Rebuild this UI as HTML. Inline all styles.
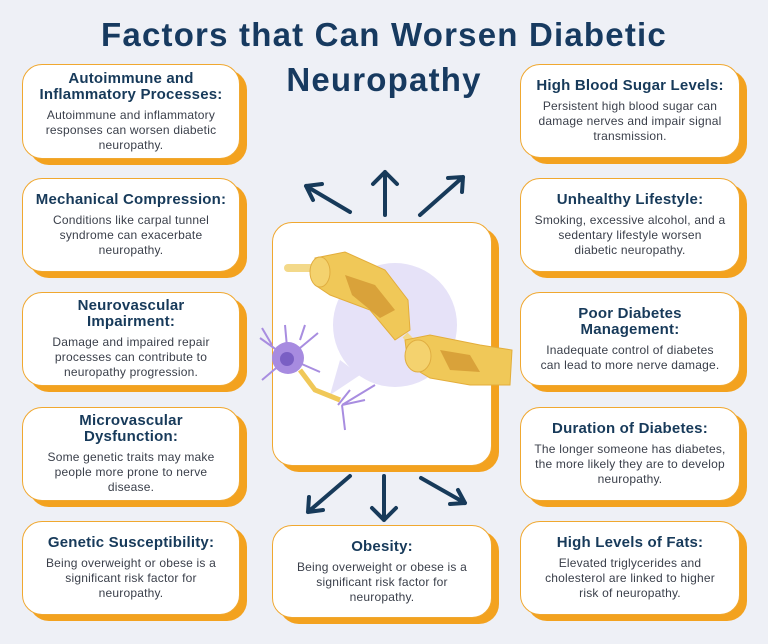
<!DOCTYPE html>
<html><head><meta charset="utf-8"><style>
body{margin:0;width:768px;height:644px;background:#eef0f6;font-family:"Liberation Sans",sans-serif;position:relative;overflow:hidden}
.t{position:absolute;left:0;width:768px;text-align:center;color:#173a60;font-weight:bold;font-size:33px;letter-spacing:1.2px}
.c{position:absolute;box-sizing:border-box;background:#fff;border:1.5px solid #f0a830;border-radius:20px;box-shadow:7px 6px 0 #f3a21f;text-align:center;display:flex;flex-direction:column;justify-content:center;padding:0 4px;white-space:nowrap}
.c h{display:block;color:#173a5a;font-weight:bold;font-size:15px;line-height:16px;margin-bottom:5px;letter-spacing:0.2px}
.c p{margin:0;color:#3a3f4a;font-size:12px;line-height:15px;letter-spacing:0.2px}
</style></head><body>
<div class="t" style="top:16px">Factors that Can Worsen Diabetic</div>
<div class="t" style="top:61px">Neuropathy</div>

<div class="c" style="left:22px;top:64px;width:218px;height:95px"><h>Autoimmune and<br>Inflammatory Processes:</h><p>Autoimmune and inflammatory<br>responses can worsen diabetic<br>neuropathy.</p></div>
<div class="c" style="left:22px;top:178px;width:218px;height:94px"><h>Mechanical Compression:</h><p>Conditions like carpal tunnel<br>syndrome can exacerbate<br>neuropathy.</p></div>
<div class="c" style="left:22px;top:292px;width:218px;height:94px"><h>Neurovascular<br>Impairment:</h><p>Damage and impaired repair<br>processes can contribute to<br>neuropathy progression.</p></div>
<div class="c" style="left:22px;top:407px;width:218px;height:94px"><h>Microvascular<br>Dysfunction:</h><p>Some genetic traits may make<br>people more prone to nerve<br>disease.</p></div>
<div class="c" style="left:22px;top:521px;width:218px;height:94px"><h>Genetic Susceptibility:</h><p>Being overweight or obese is a<br>significant risk factor for<br>neuropathy.</p></div>

<div class="c" style="left:520px;top:64px;width:220px;height:94px"><h>High Blood Sugar Levels:</h><p>Persistent high blood sugar can<br>damage nerves and impair signal<br>transmission.</p></div>
<div class="c" style="left:520px;top:178px;width:220px;height:94px"><h>Unhealthy Lifestyle:</h><p>Smoking, excessive alcohol, and a<br>sedentary lifestyle worsen<br>diabetic neuropathy.</p></div>
<div class="c" style="left:520px;top:292px;width:220px;height:94px"><h>Poor Diabetes<br>Management:</h><p>Inadequate control of diabetes<br>can lead to more nerve damage.</p></div>
<div class="c" style="left:520px;top:407px;width:220px;height:94px"><h>Duration of Diabetes:</h><p>The longer someone has diabetes,<br>the more likely they are to develop<br>neuropathy.</p></div>
<div class="c" style="left:520px;top:521px;width:220px;height:94px"><h>High Levels of Fats:</h><p>Elevated triglycerides and<br>cholesterol are linked to higher<br>risk of neuropathy.</p></div>

<div class="c" style="left:272px;top:525px;width:220px;height:93px"><h>Obesity:</h><p>Being overweight or obese is a<br>significant risk factor for<br>neuropathy.</p></div>

<div class="c" style="left:272px;top:222px;width:220px;height:244px"></div>

<svg style="position:absolute;left:0;top:0" width="768" height="644">
<g stroke="#173a5a" stroke-width="4" fill="none" stroke-linecap="round" stroke-linejoin="round">
<path d="M350 212 L306 186 M306 186 L322 184 M306 186 L313 200"/>
<path d="M385 215 L385 172 M373 184 L385 172 L397 184"/>
<path d="M420 215 L463 177 M448 178 L463 177 L462 192"/>
<path d="M350 476 L308 512 M309 497 L308 512 L323 510"/>
<path d="M384 476 L384 520 M372 508 L384 520 L396 508"/>
<path d="M421 478 L465 503 M450 504 L465 503 L458 490"/>
</g>
<circle cx="395" cy="325" r="62" fill="#e6e2f8"/>
<path d="M340 360 L330 395 L360 375 Z" fill="#e6e2f8"/>
<path d="M288 268 L318 268" stroke="#f3d98a" stroke-width="8" stroke-linecap="round"/>
<path d="M315 258 L345 252 L385 270 L408 300 L410 330 L395 340 L370 310 L330 295 L315 285 Z" fill="#f0c858" stroke="#e3ad3a"/>
<ellipse cx="320" cy="272" rx="10" ry="15" fill="#f4d26e" stroke="#e0ad40"/>
<path d="M345 275 L375 285 L395 310 L380 318 L352 295 Z" fill="#d9a23a"/>
<path d="M405 335 L418 348" stroke="#f3d98a" stroke-width="7"/>
<path d="M405 340 L430 335 L480 345 L512 350 L510 385 L470 385 L430 378 L408 365 Z" fill="#f0c858" stroke="#e3ad3a"/>
<ellipse cx="418" cy="356" rx="13" ry="16" fill="#f4d26e" stroke="#e0ad40"/>
<path d="M440 350 L470 355 L480 372 L450 370 Z" fill="#d9a23a"/>
<g stroke="#a88de0" stroke-width="2" fill="none">
<path d="M288 358 L260 338 M288 358 L262 380 M288 358 L285 325 M288 358 L318 333 M288 358 L320 372 M272 345 L262 328 M300 340 L305 325"/>
<path d="M338 405 L350 390 M342 405 L365 400 M342 405 L345 430 M342 405 L375 385"/>
</g>
<circle cx="288" cy="358" r="16" fill="#a78be0"/>
<circle cx="287" cy="359" r="7" fill="#7a5fc4"/>
<path d="M300 370 L315 390 L340 400" stroke="#f0c858" stroke-width="5" fill="none"/>
</svg>
</body></html>
